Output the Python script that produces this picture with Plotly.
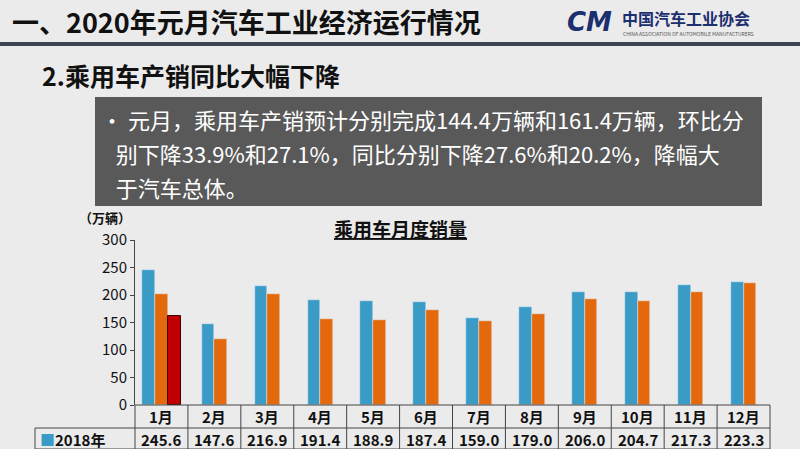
import plotly.graph_objects as go

months = ["1月", "2月", "3月", "4月", "5月", "6月", "7月", "8月", "9月", "10月", "11月", "12月"]
sales_2018 = [245.6, 147.6, 216.9, 191.4, 188.9, 187.4, 159.0, 179.0, 206.0, 204.7, 217.3, 223.3]
sales_2019 = [201.0, 120.0, 201.0, 157.0, 155.0, 172.0, 152.0, 166.0, 192.0, 190.0, 206.0, 221.0]
sales_2020 = [161.4]
y_ticks = [0, 50, 100, 150, 200, 250, 300]

W, H = 800, 449
L, R, T, B = 135, 770, 240, 405
FONT = "Noto Sans CJK SC"


def px(x):
    return (x - L) / (R - L)


def py(y):
    return (B - y) / (B - T)


w = 0.24
idx = list(range(len(months)))
off18 = [-1.5 * w if i == 0 else -w for i in idx]
off19 = [-0.5 * w if i == 0 else 0 for i in idx]

fig = go.Figure()
fig.add_bar(x=idx, y=sales_2018, width=w, offset=off18, marker_color="#3a9cc6", name="2018年")
fig.add_bar(x=idx, y=sales_2019, width=w, offset=off19, marker_color="#e4690c", name="2019年")
fig.add_bar(x=idx[:1], y=sales_2020, width=w, offset=[0.5 * w], marker_color="#c00000",
            marker_line=dict(color="#400000", width=1), name="2020年")

shapes = []
ann = []
# title bar
ann.append(dict(text="<b>一、2020年元月汽车工业经济运行情况</b>", x=px(10), y=py(21), xanchor="left",
                yanchor="middle", font=dict(size=27, color="#111")))
shapes.append(dict(type="rect", xref="paper", yref="paper", x0=px(0), x1=px(800), y0=py(46), y1=py(42),
                   fillcolor="#3d4650", line_width=0, layer="below"))
# logo
ann.append(dict(text="<b><i>CM</i></b>", x=px(565), y=py(22), xanchor="left", yanchor="middle",
                font=dict(size=26, color="#1c2f6e", family="DejaVu Sans")))
ann.append(dict(text="<b>中国汽车工业协会</b>", x=px(620), y=py(18), xanchor="left", yanchor="middle",
                font=dict(size=16, color="#1c2f6e")))
ann.append(dict(text="CHINA ASSOCIATION OF AUTOMOBILE MANUFACTURERS", x=px(621), y=py(33), xanchor="left",
                yanchor="middle", font=dict(size=5, color="#555")))
# subtitle
ann.append(dict(text="<b>2.乘用车产销同比大幅下降</b>", x=px(40), y=py(75), xanchor="left", yanchor="middle",
                font=dict(size=25, color="#111")))
# dark box
shapes.append(dict(type="rect", xref="paper", yref="paper", x0=px(95), x1=px(762), y0=py(97), y1=py(206),
                   fillcolor="#595959", line_width=0, layer="below"))
lines = ["• 元月，乘用车产销预计分别完成144.4万辆和161.4万辆，环比分",
         "   别下降33.9%和27.1%，同比分别下降27.6%和20.2%，降幅大",
         "   于汽车总体。"]
for k, t in enumerate(lines):
    ann.append(dict(text=t, x=px(99), y=py(119 + 34 * k), xanchor="left", yanchor="middle",
                    font=dict(size=22, color="white")))
# chart title
ann.append(dict(text="<b><u>乘用车月度销量</u></b>", x=px(400), y=py(228), xanchor="center", yanchor="middle",
                font=dict(size=19, color="#111")))
ann.append(dict(text="<b>（万辆）</b>", x=px(105), y=py(217), xanchor="center", yanchor="middle",
                font=dict(size=13, color="#111")))
# table
cw = (R - L) / 12
for y0 in (405, 428, 449):
    x0 = L if y0 == 405 else 35
    shapes.append(dict(type="line", xref="paper", yref="paper", x0=px(x0), x1=px(R), y0=py(y0), y1=py(y0),
                       line=dict(color="#444", width=1)))
for i in range(13):
    xx = L + i * cw
    shapes.append(dict(type="line", xref="paper", yref="paper", x0=px(xx), x1=px(xx), y0=py(405), y1=py(449),
                       line=dict(color="#444", width=1)))
shapes.append(dict(type="line", xref="paper", yref="paper", x0=px(35), x1=px(35), y0=py(428), y1=py(449),
                   line=dict(color="#444", width=1)))
for i, m in enumerate(months):
    ann.append(dict(text="<b>%s</b>" % m, x=i, xref="x", y=py(416), xanchor="center", yanchor="middle",
                    font=dict(size=15, color="#111")))
    ann.append(dict(text="<b>%.1f</b>" % sales_2018[i], x=i, xref="x", y=py(439), xanchor="center",
                    yanchor="middle", font=dict(size=15, color="#111")))
ann.append(dict(text="<span style='color:#3a9cc6'>■</span><b>2018年</b>", x=px(38), y=py(439), xanchor="left",
                yanchor="middle", font=dict(size=15, color="#111")))
for a in ann:
    a.setdefault("xref", "paper")
    a.setdefault("yref", "paper")
    a["showarrow"] = False

fig.update_layout(
    width=W, height=H, paper_bgcolor="#ebebeb", plot_bgcolor="#ebebeb",
    margin=dict(l=L, r=W - R, t=T, b=H - B), showlegend=False,
    font=dict(family=FONT), shapes=shapes, annotations=ann, bargap=0,
    xaxis=dict(range=[-0.5, 11.5], showticklabels=False, showgrid=False, zeroline=False,
               showline=False),
    yaxis=dict(range=[0, 300], tickvals=y_ticks, showgrid=False, zeroline=False, showline=True,
               linecolor="#444", ticks="outside", ticklen=4, tickcolor="#444",
               tickfont=dict(size=15, color="#111", family=FONT), tickprefix="<b>", ticksuffix="</b>"),
)
fig.write_html("out.html", config={"displayModeBar": False},
               post_script="document.body.style.margin='0';")
